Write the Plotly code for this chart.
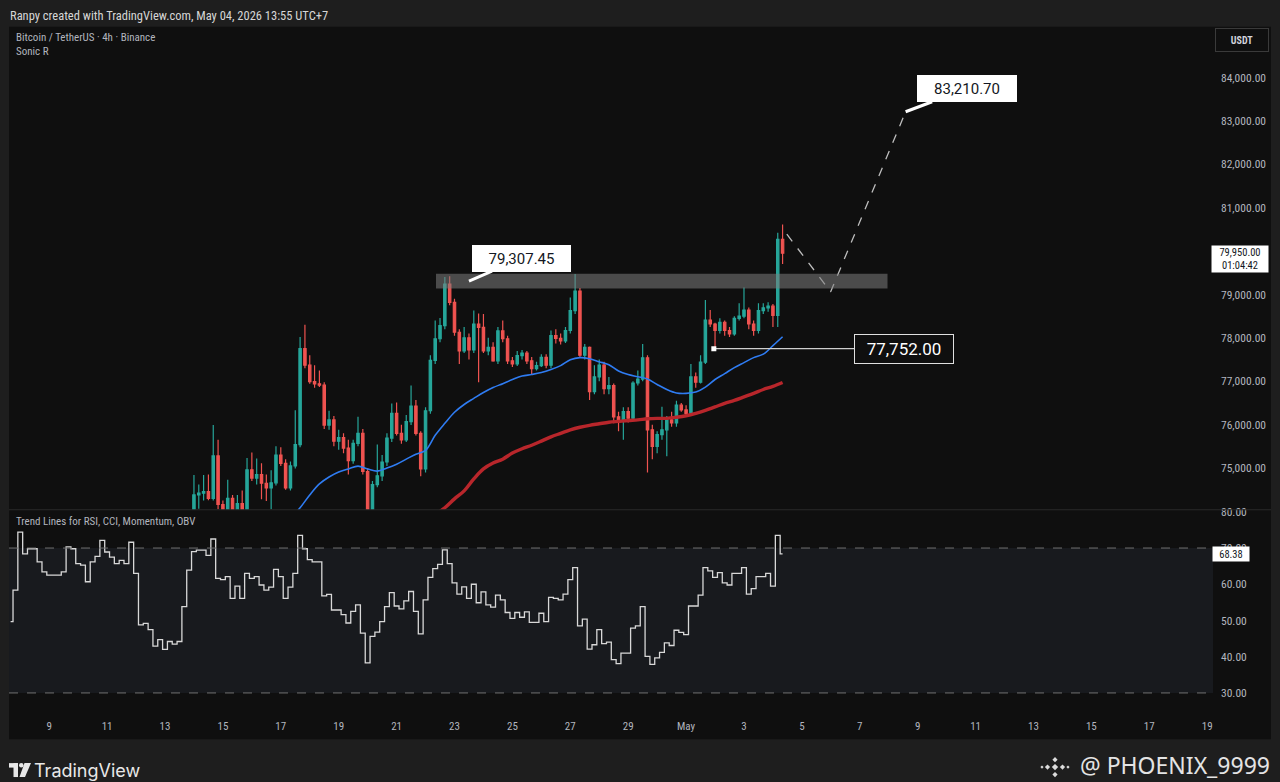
import pandas as pd
import plotly.graph_objects as go

W, H = 1280, 782

# --- candles (BTC/USDT 4h), first bar 14 Apr 00:00 ---
bar_start = "2026-04-14 00:00"
opens = [74040, 74380, 74420, 74460, 74300, 75280, 74160, 74050, 74300, 74010,
         74180, 74000, 74960, 74770, 74850, 74650, 74540, 74660, 75300, 75110,
         74540, 75050, 75540, 77750, 77370, 76990, 76940, 76910, 75990, 76110,
         75620, 75700, 75460, 75170, 75570, 75800, 74920, 74040, 74620, 74820,
         75140, 75690, 76260, 75800, 75650, 76070, 76430, 75800, 74980, 76320,
         77480, 77980, 78280, 79240, 78820, 78130, 77700, 78000, 77720, 78320,
         78240, 77700, 77780, 77470, 78160, 77980, 77470, 77400, 77590, 77650,
         77470, 77290, 77360, 77550, 77370, 78050, 77990, 77930, 78170, 78630,
         79080, 77600, 77780, 76760, 77100, 77370, 76830, 76900, 76180, 76080,
         76300, 76150, 76960, 77050, 77540, 75880, 75500, 75770, 75880, 76110,
         76040, 76450, 76340, 76260, 77100, 76980, 77440, 78410, 78320, 78170,
         78360, 78170, 78090, 78450, 78500, 78640, 78320, 78170, 78630, 78690,
         78730, 78520, 80270]
highs = [74840, 74620, 74840, 74850, 75990, 75650, 74250, 74730, 74380, 74380,
         74480, 75230, 75360, 75220, 75110, 74850, 74950, 75500, 75480, 75200,
         75150, 76330, 78020, 78300, 77600, 77370, 77250, 76980, 76320, 76200,
         75880, 75800, 75650, 75650, 76180, 75900, 75000, 74700, 75540, 75300,
         75800, 76490, 76510, 76000, 76220, 76900, 76570, 75850, 76400, 77600,
         78400, 78460, 79400, 79420, 78900, 78200, 78250, 78100, 78630, 78560,
         78550, 78000, 77900, 78250, 78400, 78050, 77560, 77700, 77720, 77700,
         77560, 77450, 77620, 77620, 78170, 78200, 78100, 78250, 78930, 79470,
         79150, 77860, 77800, 77370, 77500, 77450, 77100, 76950, 76300, 76400,
         76400, 77000, 77250, 77860, 77600, 76000, 75850, 76410, 76200, 76300,
         76550, 76500, 76450, 77400, 77200, 77600, 78870, 78640, 78350, 78450,
         78400, 78250, 78500, 78800, 79160, 78700, 78400, 78800, 78800, 78820,
         78780, 80420, 80610]
lows = [73990, 74060, 74250, 74260, 74250, 74050, 73990, 74000, 73950, 73960,
        73940, 73960, 74700, 74620, 74280, 74240, 74050, 74600, 75050, 74500,
        74480, 74990, 75480, 77300, 76940, 76850, 76870, 75900, 75880, 75500,
        75420, 75340, 74850, 75100, 75500, 74850, 73900, 73950, 74560, 74700,
        75050, 75600, 75750, 75560, 75600, 75990, 75750, 74810, 74900, 76250,
        77400, 77900, 78200, 78750, 78050, 77400, 77650, 77500, 77650, 76980,
        77650, 77600, 77450, 77400, 77900, 77400, 77330, 77350, 77500, 77400,
        77170, 77250, 77330, 77300, 77300, 77870, 77850, 77880, 78100, 78550,
        77550, 77500, 76570, 76700, 77000, 76700, 76700, 76030, 75850, 75650,
        76050, 76100, 76900, 77000, 74900, 75200, 75340, 75650, 75270, 75950,
        75950, 76300, 76200, 76200, 76850, 76950, 77400, 78250, 77752, 78100,
        78050, 78020, 78050, 78400, 78450, 78200, 78050, 78100, 78550, 78600,
        78250, 78250, 79700]
closes = [74380, 74420, 74460, 74300, 75280, 74160, 74050, 74300, 74010, 74180,
          74000, 74960, 74770, 74850, 74650, 74540, 74660, 75300, 75110, 74540,
          75050, 75540, 77750, 77370, 76990, 76940, 76910, 75990, 76110, 75620,
          75700, 75460, 75170, 75570, 75800, 74920, 74040, 74620, 74820, 75140,
          75690, 76260, 75800, 75650, 76070, 76430, 75800, 74980, 76320, 77480,
          77980, 78280, 79240, 78820, 78130, 77700, 78000, 77720, 78320, 78240,
          77700, 77780, 77470, 78160, 77980, 77470, 77400, 77590, 77650, 77470,
          77290, 77360, 77550, 77370, 78050, 77990, 77930, 78170, 78630, 79080,
          77600, 77780, 76760, 77100, 77370, 76830, 76900, 76180, 76080, 76300,
          76150, 76960, 77050, 77540, 75880, 75500, 75770, 75880, 76110, 76040,
          76450, 76340, 76260, 77100, 76980, 77440, 78410, 78320, 78170, 78360,
          78170, 78090, 78450, 78500, 78640, 78320, 78170, 78630, 78690, 78730,
          78520, 80270, 79950]

# Sonic R moving averages (bar index -> value), every second bar
blue_bars = list(range(20, 123, 2))
blue_ma = [73830, 74085, 74380, 74635, 74795, 74910, 74980, 75045, 74980, 74930,
           75000, 75090, 75205, 75320, 75410, 75755, 76030, 76285, 76465, 76605,
           76740, 76855, 76945, 77040, 77120, 77155, 77200, 77270, 77360, 77495,
           77545, 77520, 77450, 77380, 77235, 77155, 77105, 77050, 76925, 76810,
           76730, 76720, 76750, 76865, 77040, 77175, 77315, 77430, 77545, 77625,
           77820, 78025]
red_bars = list(range(50, 123, 2))
red_ma = [73925, 74085, 74290, 74475, 74750, 74980, 75115, 75205, 75345, 75445,
          75525, 75620, 75720, 75800, 75880, 75940, 75985, 76020, 76055, 76075,
          76095, 76110, 76135, 76145, 76145, 76170, 76205, 76260, 76330, 76410,
          76490, 76560, 76640, 76720, 76810, 76880, 76970]

# step indicator in the lower pane, first value 7 Apr 16:00
rsi_start = "2026-04-07 16:00"
rsi_values = [49.7, 58.4, 74.4, 68.4, 69.8, 69.8, 66.2, 63.4, 62.5, 62.5,
              62.5, 63.4, 70.3, 69.8, 65.7, 65.3, 60.7, 66.2, 67.7, 72.1,
              68.9, 67.5, 65.7, 66.6, 65.7, 71.6, 63.0, 48.8, 49.2, 47.5,
              42.9, 44.7, 42.0, 44.2, 43.5, 44.2, 53.8, 63.9,
              69.0, 69.4, 69.4, 68.0, 72.5, 61.6, 61.3, 62.1, 56.1, 59.5,
              56.1, 63.0, 61.6, 62.1, 59.8, 58.4, 59.2, 64.1, 62.1, 56.1,
              59.2, 63.0, 73.5, 69.8, 66.8, 66.2, 66.2, 56.8, 57.2, 52.9,
              52.9, 51.6, 49.3, 52.5, 54.3, 46.5, 38.3, 45.6, 46.8, 49.7,
              53.8, 57.7, 54.0, 53.2, 55.4, 58.0, 52.5, 46.3, 55.7, 61.9,
              64.3, 65.5, 69.5, 65.7, 60.4, 57.3, 59.3, 56.1, 60.0, 54.9,
              57.9, 54.3, 53.7, 57.0, 55.7, 52.2, 50.6, 52.2, 50.9, 52.4,
              49.5, 49.5, 52.0, 49.7, 56.4, 56.1, 55.7, 57.3, 61.3, 64.6,
              48.5, 50.4, 42.1, 43.3, 47.5, 43.6, 44.0, 39.2, 38.1, 41.0,
              41.0, 47.9, 48.5, 53.8, 40.1, 37.9, 39.7, 41.2, 43.8, 43.1,
              47.3, 46.7, 46.1, 54.0, 54.0, 57.0, 64.6, 63.7, 61.9, 63.2,
              60.4, 59.8, 63.0, 63.0, 64.6, 57.3, 58.8, 62.1, 62.1, 63.0,
              59.5, 73.5, 68.38]

# drawings
zone_times = ["2026-04-22 08:40", "2026-05-07 23:00"]
zone_prices = [79140, 79475]
proj_times = ["2026-05-04 11:30", "2026-05-05 23:50", "2026-05-08 14:00"]
proj_prices = [80390, 79060, 83210.70]
top_label_price = 79307.45
top_label_time = "2026-04-23 12:00"
support_price = 77752.00
support_times = ["2026-05-01 23:00", "2026-05-06 20:00"]
support_label_time = "2026-05-08 12:30"
last_price = 79950.00
last_rsi = 68.38

# 80,000.00 sits under the last-price tag, so it is not listed
price_ticks = [75000, 76000, 77000, 78000, 79000, 81000, 82000, 83000, 84000]
rsi_ticks = [30, 40, 50, 60, 70, 80]
date_ticks = ["2026-04-%02d" % d for d in range(9, 30, 2)] + ["2026-05-%02d" % d for d in range(1, 20, 2)]
date_labels = [str(d) for d in range(9, 30, 2)] + ["May"] + [str(d) for d in range(3, 20, 2)]

GREEN = "#26a69a"
RED = "#ef5350"
TXT = "#b2b5be"
NARROW = "Liberation Sans Narrow, Arial Narrow, Roboto Condensed, Roboto, sans-serif"


def px(x):
    return x / W


def py(y):
    return 1 - y / H


bar_times = pd.date_range(bar_start, periods=len(closes), freq="4h")
rsi_times = pd.date_range(rsi_start, periods=len(rsi_values), freq="4h")
x_range = ["2026-04-07 14:40", "2026-05-19 04:50"]

fig = go.Figure()

fig.add_trace(go.Candlestick(
    x=bar_times, open=opens, high=highs, low=lows, close=closes,
    increasing=dict(line=dict(color=GREEN, width=1.2), fillcolor=GREEN),
    decreasing=dict(line=dict(color=RED, width=1.2), fillcolor=RED),
    xaxis="x", yaxis="y", hoverinfo="skip"))

fig.add_trace(go.Scatter(
    x=[bar_times[i] for i in blue_bars], y=blue_ma, mode="lines",
    line=dict(color="#2f7cf2", width=1.6, shape="spline"), xaxis="x", yaxis="y"))
fig.add_trace(go.Scatter(
    x=[bar_times[i] for i in red_bars], y=red_ma, mode="lines",
    line=dict(color="#b8262b", width=3.4, shape="spline"), xaxis="x", yaxis="y"))

# projection path
fig.add_trace(go.Scatter(
    x=proj_times, y=proj_prices, mode="lines",
    line=dict(color="#bdbdbd", width=1.3, dash="dash"), xaxis="x", yaxis="y"))

# support level line
fig.add_trace(go.Scatter(
    x=support_times, y=[support_price, support_price], mode="lines",
    line=dict(color="#cfcfcf", width=1.3), xaxis="x", yaxis="y"))
fig.add_trace(go.Scatter(
    x=support_times[:1], y=[support_price], mode="markers",
    marker=dict(color="white", size=5, symbol="square"), xaxis="x", yaxis="y"))

# lower pane step line
fig.add_trace(go.Scatter(
    x=rsi_times, y=rsi_values, mode="lines",
    line=dict(color="#d8d8d8", width=1.3, shape="hvh"), xaxis="x2", yaxis="y2"))

shapes = [
    # chart canvas
    dict(type="rect", xref="paper", yref="paper", x0=px(9), x1=px(1271), y0=py(739), y1=py(22),
         fillcolor="#0f0f0f", line=dict(width=0), layer="below"),
    # band between 70 and 30
    dict(type="rect", xref="paper", yref="y2", x0=px(9), x1=px(1213), y0=30, y1=70,
         fillcolor="#181a1e", line=dict(width=0), layer="below"),
    dict(type="line", xref="paper", yref="y2", x0=px(9), x1=px(1213), y0=70, y1=70,
         line=dict(color="#707070", width=1, dash="dash")),
    dict(type="line", xref="paper", yref="y2", x0=px(9), x1=px(1213), y0=30, y1=30,
         line=dict(color="#707070", width=1, dash="dash")),
    # pane separator
    dict(type="line", xref="paper", yref="paper", x0=px(9), x1=px(1271), y0=py(508), y1=py(508),
         line=dict(color="#2a2a2a", width=1)),
    # grey resistance zone
    dict(type="rect", xref="x", yref="y", x0=zone_times[0], x1=zone_times[1],
         y0=zone_prices[0], y1=zone_prices[1],
         fillcolor="rgba(125,125,125,0.55)", line=dict(width=0), layer="above"),
    # TradingView logo
    dict(type="rect", xref="paper", yref="paper", x0=px(9), x1=px(18), y0=py(767.5), y1=py(763),
         fillcolor="#e8e8e8", line=dict(width=0)),
    dict(type="rect", xref="paper", yref="paper", x0=px(13.5), x1=px(18), y0=py(777), y1=py(763),
         fillcolor="#e8e8e8", line=dict(width=0)),
    dict(type="circle", xref="paper", yref="paper", x0=px(19), x1=px(23.5), y0=py(767.5), y1=py(763),
         fillcolor="#e8e8e8", line=dict(width=0)),
    dict(type="path", xref="paper", yref="paper",
         path="M %f %f L %f %f L %f %f L %f %f Z" % (px(24.5), py(763), px(31), py(763),
                                                     px(25), py(777), px(19.5), py(777)),
         fillcolor="#e8e8e8", line=dict(width=0)),
]

# small diamond logo next to the signature
for cx, cy, hs in [(1055, 767, 3.2), (1055, 759.5, 2.6), (1055, 774.5, 2.6),
                   (1047.5, 767, 2.6), (1062.5, 767, 2.6), (1042, 767, 1.6), (1068, 767, 1.6)]:
    shapes.append(dict(
        type="path", xref="paper", yref="paper",
        path="M %f %f L %f %f L %f %f L %f %f Z" % (px(cx), py(cy - hs), px(cx + hs), py(cy),
                                                    px(cx), py(cy + hs), px(cx - hs), py(cy)),
        fillcolor="#dcdcdc", line=dict(width=0)))

annotations = [
    dict(xref="paper", yref="paper", x=px(8), y=py(11), xanchor="left", yanchor="middle",
         text="Ranpy created with TradingView.com, May 04, 2026 13:55 UTC+7", showarrow=False,
         font=dict(family=NARROW, size=12.5, color="#d6d6d6")),
    dict(xref="paper", yref="paper", x=px(14), y=py(33), xanchor="left", yanchor="middle",
         text="Bitcoin / TetherUS · 4h · Binance", showarrow=False,
         font=dict(family=NARROW, size=11, color=TXT)),
    dict(xref="paper", yref="paper", x=px(14), y=py(47), xanchor="left", yanchor="middle",
         text="Sonic R", showarrow=False, font=dict(family=NARROW, size=11, color=TXT)),
    dict(xref="paper", yref="paper", x=px(14), y=py(520), xanchor="left", yanchor="middle",
         text="Trend Lines for RSI, CCI, Momentum, OBV", showarrow=False,
         font=dict(family=NARROW, size=11, color=TXT)),
    dict(xref="paper", yref="paper", x=px(1242), y=py(35.5), xanchor="center", yanchor="middle",
         text="<b>USDT</b>", showarrow=False,
         width=50, height=20, bgcolor="#0f0f0f", bordercolor="#3a3a3a", borderwidth=1,
         font=dict(family=NARROW, size=10, color="#d1d4dc")),
    # price callouts
    dict(xref="x", yref="y", x=top_label_time, y=top_label_price, text="79,307.45",
         showarrow=True, arrowhead=0, arrowwidth=3, arrowcolor="white", ax=53, ay=-23,
         width=95, height=23, bgcolor="white", bordercolor="white",
         font=dict(family="Roboto", size=15, color="#131722")),
    dict(xref="x", yref="y", x=proj_times[-1], y=proj_prices[-1], text="83,210.70",
         showarrow=True, arrowhead=0, arrowwidth=3, arrowcolor="white", ax=61, ay=-23,
         width=96, height=23, bgcolor="white", bordercolor="white",
         font=dict(family="Roboto", size=15, color="#131722")),
    dict(xref="x", yref="y", x=support_label_time, y=support_price, text="77,752.00",
         showarrow=False, width=96, height=26, bgcolor="#0f0f0f", bordercolor="#e0e0e0",
         borderwidth=1, font=dict(family="Roboto", size=17, color="white")),
    # last value tags
    dict(xref="paper", yref="y", x=px(1240), y=last_price, yshift=-6,
         xanchor="center", yanchor="middle",
         text="79,950.00<br>01:04:42", showarrow=False, width=54, height=24,
         bgcolor="white", font=dict(family=NARROW, size=10.5, color="#131722")),
    dict(xref="paper", yref="y2", x=px(1231), y=last_rsi, xanchor="center", yanchor="middle",
         text="%.2f" % last_rsi, showarrow=False, width=34, height=12, bgcolor="white",
         font=dict(family=NARROW, size=10.5, color="#131722")),
    # footer
    dict(xref="paper", yref="paper", x=px(32), y=py(770), xanchor="left", yanchor="middle",
         text="TradingView", showarrow=False,
         font=dict(family="Inter, Roboto", size=18, color="#e8e8e8")),
    dict(xref="paper", yref="paper", x=px(1271), y=py(765), xanchor="right", yanchor="middle",
         text="@ PHOENIX_9999", showarrow=False, borderpad=0,
         font=dict(family="Noto Sans", size=23, color="#e4e4e4")),
]

fig.update_layout(
    width=W, height=H,
    margin=dict(l=0, r=0, t=0, b=0),
    paper_bgcolor="#1e1e1e",
    plot_bgcolor="rgba(0,0,0,0)",
    showlegend=False,
    hovermode=False,
    xaxis=dict(domain=[px(9), px(1213)], range=x_range, anchor="y",
               showticklabels=False, showgrid=False, zeroline=False,
               rangeslider=dict(visible=False)),
    yaxis=dict(domain=[py(508), py(22)], range=[74039, 85167], anchor="x", side="right",
               tickvals=price_ticks, tickformat=",.2f", ticks="", ticklabelstandoff=7,
               showgrid=False, zeroline=False,
               tickfont=dict(family=NARROW, size=11.5, color=TXT)),
    xaxis2=dict(domain=[px(9), px(1213)], range=x_range, anchor="y2", matches="x",
                tickvals=date_ticks, ticktext=date_labels, ticks="", ticklabelstandoff=12,
                showgrid=False, zeroline=False,
                tickfont=dict(family=NARROW, size=11, color=TXT)),
    yaxis2=dict(domain=[py(706), py(508)], range=[26.26, 80.57], anchor="x2", side="right",
                tickvals=rsi_ticks, tickformat=".2f", ticks="", ticklabelstandoff=7,
                showgrid=False, zeroline=False,
                tickfont=dict(family=NARROW, size=11.5, color=TXT)),
    shapes=shapes,
    annotations=annotations,
)

# the page body has a default 8px margin; drop it so the figure fills the window
fig.write_html("out.html", config={"displayModeBar": False},
               post_script="document.body.style.margin='0';document.body.style.overflow='hidden';")
